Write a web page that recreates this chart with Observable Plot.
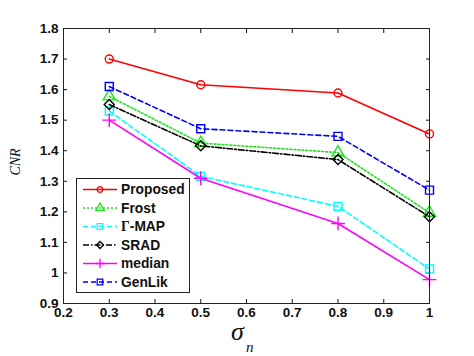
<!DOCTYPE html>
<html><head><meta charset="utf-8">
<script src="https://cdn.jsdelivr.net/npm/d3@7"></script>
<script src="https://cdn.jsdelivr.net/npm/@observablehq/plot@0.6"></script>
<style>
body{margin:0;background:#fff}
#chart{position:relative;width:474px;height:356px}
</style>
</head><body><div id="chart"></div>
<script>
// ---- data ----
const sigma = [0.3, 0.5, 0.8, 1.0];
const proposed = [1.700, 1.616, 1.589, 1.455];
const frost    = [1.578, 1.425, 1.394, 1.197];
const gammaMap = [1.530, 1.316, 1.218, 1.013];
const srad     = [1.551, 1.416, 1.371, 1.184];
const median   = [1.500, 1.310, 1.162, 0.978];
const genlik   = [1.610, 1.472, 1.447, 1.271];
const seriesNames = ["Proposed", "Frost", "Γ-MAP", "SRAD", "median", "GenLik"];
const xTicks = [0.2, 0.3, 0.4, 0.5, 0.6, 0.7, 0.8, 0.9, 1.0];
const xTickLabels = ["0.2", "0.3", "0.4", "0.5", "0.6", "0.7", "0.8", "0.9", "1"];
const yTicks = [0.9, 1.0, 1.1, 1.2, 1.3, 1.4, 1.5, 1.6, 1.7, 1.8];
const yTickLabels = ["0.9", "1", "1.1", "1.2", "1.3", "1.4", "1.5", "1.6", "1.7", "1.8"];

// ---- styles ----
const styles = [
  {stroke: "#ff0000", dash: null, symbol: "circle", r: 4},
  {stroke: "#1ee61e", dash: "2,2", symbol: "triangle", r: 4.5},
  {stroke: "#00ffff", dash: "5,3", symbol: "square", r: 4.5},
  {stroke: "#000000", dash: "6,2,1.5,2", symbol: "diamond2", r: 4.5},
  {stroke: "#ff00ff", dash: null, symbol: "plus", r: 4.5},
  {stroke: "#0000ff", dash: "5,3", symbol: "square", r: 4.5}
];
const values = [proposed, frost, gammaMap, srad, median, genlik];
const series = seriesNames.map((name, k) =>
  sigma.map((s, i) => ({name, x: s, y: values[k][i]})));

const fontSans = "'Liberation Sans', Arial, sans-serif";
const fontSerif = "'Liberation Serif', 'Times New Roman', serif";
const fmtX = d => xTickLabels[xTicks.findIndex(t => Math.abs(t - d) < 1e-9)];
const fmtY = d => yTickLabels[yTicks.findIndex(t => Math.abs(t - d) < 1e-9)];

const marks = [];
series.forEach((data, k) => {
  const st = styles[k];
  marks.push(Plot.line(data, {x: "x", y: "y", stroke: st.stroke, strokeWidth: 1.6,
    strokeDasharray: st.dash || undefined}));
  marks.push(Plot.dot(data, {x: "x", y: "y", stroke: st.stroke, fill: "none",
    strokeWidth: 1.4, symbol: st.symbol, r: st.r}));
});

const chart = Plot.plot({
  width: 474, height: 356,
  marginLeft: 63, marginRight: 45, marginTop: 28, marginBottom: 53,
  style: {fontFamily: fontSans, fontSize: "13px", color: "#111", background: "#fff"},
  x: {domain: [0.2, 1.0], axis: null},
  y: {domain: [0.9, 1.8], axis: null},
  marks: [
    Plot.axisX(xTicks, {anchor: "bottom", tickSize: -4, tickPadding: 8, tickFormat: fmtX,
      fontWeight: "bold", fontSize: 13.5, label: null}),
    Plot.axisX(xTicks, {anchor: "top", tickSize: -4, tickFormat: () => "", label: null}),
    Plot.axisY(yTicks, {anchor: "left", tickSize: -4, tickPadding: 9, tickFormat: fmtY,
      fontWeight: "bold", fontSize: 13.5, label: null}),
    Plot.axisY(yTicks, {anchor: "right", tickSize: -4, tickFormat: () => "", label: null}),
    ...marks,
    Plot.frame({stroke: "#222", strokeWidth: 1})
  ]
});
document.getElementById("chart").appendChild(chart);

// ---- axis titles & legend ----
const svg = d3.select(chart);
svg.append("text")
  .attr("transform", "translate(20,162) rotate(-90)")
  .attr("text-anchor", "middle")
  .attr("font-family", fontSerif).attr("font-style", "italic").attr("font-size", 14)
  .attr("fill", "#111")
  .text("CNR");
const xl = svg.append("text")
  .attr("x", 231).attr("y", 340).attr("text-anchor", "start")
  .attr("font-family", fontSerif).attr("font-style", "italic").attr("fill", "#111");
xl.append("tspan").attr("font-size", 26).text("σ");
xl.append("tspan").attr("x", 246).attr("y", 352).attr("font-size", 15).text("n");

const lg = svg.append("g").attr("text-anchor", "start");
lg.append("rect").attr("x", 76.5).attr("y", 178.5).attr("width", 113).attr("height", 114)
  .attr("fill", "#fff").attr("stroke", "#222").attr("stroke-width", 1);
const symMap = {circle: d3.symbolCircle, triangle: d3.symbolTriangle, square: d3.symbolSquare,
  diamond2: d3.symbolDiamond2, plus: d3.symbolPlus};
seriesNames.forEach((name, k) => {
  const st = styles[k];
  const y = 189.5 + k * 18.5;
  lg.append("line").attr("x1", 83).attr("x2", 117).attr("y1", y).attr("y2", y)
    .attr("stroke", st.stroke).attr("stroke-width", 1.6)
    .attr("stroke-dasharray", st.dash || null);
  const r = st.r * 0.7;
  lg.append("path").attr("transform", `translate(100,${y})`)
    .attr("d", d3.symbol(symMap[st.symbol], Math.PI * r * r)())
    .attr("fill", "none").attr("stroke", st.stroke).attr("stroke-width", 1.3);
  const t = lg.append("text").attr("x", 121).attr("y", y + 4.8).attr("text-anchor", "start")
    .attr("font-family", fontSans).attr("font-weight", "bold").attr("font-size", 13.8)
    .attr("fill", "#111");
  if (name.startsWith("Γ")) {
    t.append("tspan").attr("font-family", fontSerif).text("Γ");
    t.append("tspan").text(name.slice(1));
  } else t.text(name);
});
</script>
</body></html>
